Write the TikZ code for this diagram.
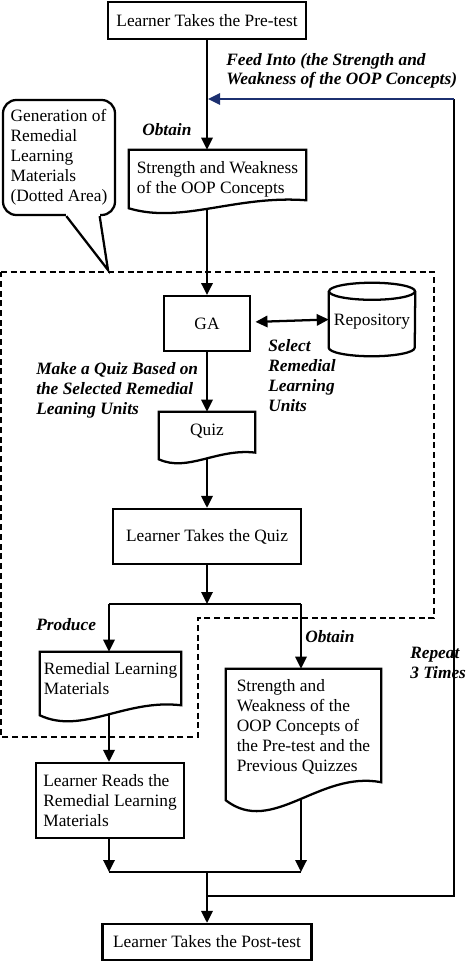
\documentclass[tikz,border=0pt]{standalone}
\usepackage{fontspec}
\setmainfont{Liberation Serif}
\usetikzlibrary{arrows.meta,calc}
\definecolor{feedblue}{RGB}{28,48,112}
\newcommand{\figfont}{\fontsize{13}{15}\selectfont}
\tikzset{
  ln/.style={line width=1.7pt},
  box/.style={draw,ln,align=center,inner sep=0pt,font=\figfont},
  doc/.style={align=left,inner sep=0pt,font=\figfont},
  lbl/.style={align=left,anchor=west,inner sep=0pt,font=\figfont\bfseries\itshape},
  arr/.style={ln,-{Triangle[length=9pt,width=8.5pt]}},
  dbl/.style={ln,{Triangle[length=9pt,width=8.5pt]}-{Triangle[length=9pt,width=8.5pt]}},
  fb/.style={ln,feedblue,-{Triangle[length=9pt,width=8.5pt]}},
  area/.style={line width=1.3pt,dash pattern=on 4.5pt off 2.8pt},
}
\newcommand{\docwave}[2]{%
  \draw[ln] (#1.south west) -- (#1.north west) -- (#1.north east) -- ($(#1.south east)+(0,#2)$)
    .. controls ($(#1.south west)!0.6!(#1.south east)+(0,1.67*#2)$) and ($(#1.south west)!0.3!(#1.south east)+(0,-2*#2)$) .. (#1.south west) -- cycle;}
\begin{document}
\begin{tikzpicture}[x=0.75pt,y=-0.75pt]
    \useasboundingbox (0,0) rectangle (474,963);

    \node[box,minimum width=149pt,minimum height=28pt] (pre) at (207,20.5) {Learner Takes the Pre-test};
    \node[doc,minimum width=132.75pt,minimum height=43.5pt] (sw) at (217.5,179) {Strength and Weakness\\of the OOP Concepts};
    \node[box,minimum width=65pt,minimum height=41pt] (ga) at (207,323.5) {GA};
    \node[doc,align=center,minimum width=64.5pt,minimum height=54.75pt,text depth=0pt] (repo) at (372,319.5) {Repository};
    \node[doc,align=center,minimum width=72pt,minimum height=35.25pt,text depth=8pt] (quiz) at (207,435.5) {Quiz};
    \node[box,minimum width=141pt,minimum height=41.25pt] (ltq) at (207,536.5) {Learner Takes the Quiz};
    \node[doc,minimum width=105.75pt,minimum height=47.25pt,text depth=8pt] (rlm) at (110.5,683.5) {Remedial Learning\\Materials};
    \node[box,align=left,minimum width=111pt,minimum height=56.25pt] (lrd) at (110,800.5) {Learner Reads the\\Remedial Learning\\Materials};
    \node[doc,minimum width=116.25pt,minimum height=98.25pt,text depth=14pt] (sw2) at (303.5,734.5) {Strength and\\Weakness of the\\OOP Concepts of\\the Pre-test and the\\Previous Quizzes};
    \node[box,minimum width=156.75pt,minimum height=27pt] (post) at (207,942) {Learner Takes the Post-test};
    \node[box,align=left,rounded corners=10pt,minimum width=84pt,minimum height=86.25pt] (callout) at (59,157.5) {Generation of\\Remedial\\Learning\\Materials\\(Dotted Area)};

    \docwave{sw}{6pt}
    \docwave{quiz}{5pt}
    \docwave{rlm}{7.5pt}
    \docwave{sw2}{13.5pt}
    \draw[ln] ([yshift=-6.4pt]repo.north west) -- ([yshift=6.4pt]repo.south west)
        arc[start angle=180,end angle=360,x radius=32.25pt,y radius=6.4pt] -- ([yshift=-6.4pt]repo.north east);
    \draw[ln] ([yshift=-6.4pt]repo.north) ellipse[x radius=32.25pt,y radius=6.4pt];

    \coordinate (tip) at (108,270);
    \fill[white] ([xshift=5.5pt,yshift=-2pt]callout.south) rectangle ([xshift=30.5pt,yshift=2pt]callout.south);
    \draw[ln,line join=miter] ([xshift=5.5pt]callout.south) -- (tip) -- ([xshift=30.5pt]callout.south);
    \draw[area] (1,272) -- (434,272) -- (434,618) -- (198,618) -- (198,737) -- (1,737) -- cycle;

    \coordinate (feed) at (208,99);
    \coordinate (loopT) at (454,99);
    \coordinate (loopB) at (454,896);
    \coordinate (split) at (207,604);
    \coordinate (splitL) at (109,604);
    \coordinate (splitR) at (301,604);
    \coordinate (merge) at (207,872);
    \coordinate (mergeL) at (109,872);
    \coordinate (mergeR) at (301,872);

    \draw[arr] (pre) -- (pre |- sw.north);
    \draw[arr] (ga |- sw.south) -- (ga);
    \draw[dbl,shorten <=3pt] (ga) -- (repo.west);
    \draw[arr] (ga) -- (quiz);
    \draw[arr] (quiz) -- (ltq);
    \draw[arr] (ltq) -- (split);
    \draw[ln] (splitL) -- (splitR);
    \draw[arr] (splitL) -- (splitL |- rlm.north);
    \draw[arr] (splitR) -- (splitR |- sw2.north);
    \draw[arr] (rlm.south -| splitL) -- (lrd.north -| splitL);
    \draw[arr] (lrd.south -| mergeL) -- (mergeL);
    \draw[arr] (sw2.south -| mergeR) -- (mergeR);
    \draw[ln] (mergeL) -- (mergeR);
    \draw[arr] (merge) -- (post);
    \draw[ln] (merge |- loopB) -- (loopB) -- (loopT);
    \draw[fb] (loopT) -- (feed);

    \node[lbl,font=\fontsize{13}{13.8}\selectfont\bfseries\itshape] (feedlbl) at (226,71) {Feed Into (the Strength and\\Weakness of the OOP Concepts)};
    \node[lbl] (obtain) at (142,130) {Obtain};
    \node[lbl] (make) at (36,390) {Make a Quiz Based on\\the Selected Remedial\\Leaning Units};
    \node[lbl] (select) at (268,376) {Select\\Remedial\\Learning\\Units};
    \node[lbl] (produce) at (36,625) {Produce};
    \node[lbl] (obtainq) at (305,637) {Obtain};
    \node[lbl] (repeat) at (410,662.5) {Repeat\\3 Times};
\end{tikzpicture}
\end{document}
